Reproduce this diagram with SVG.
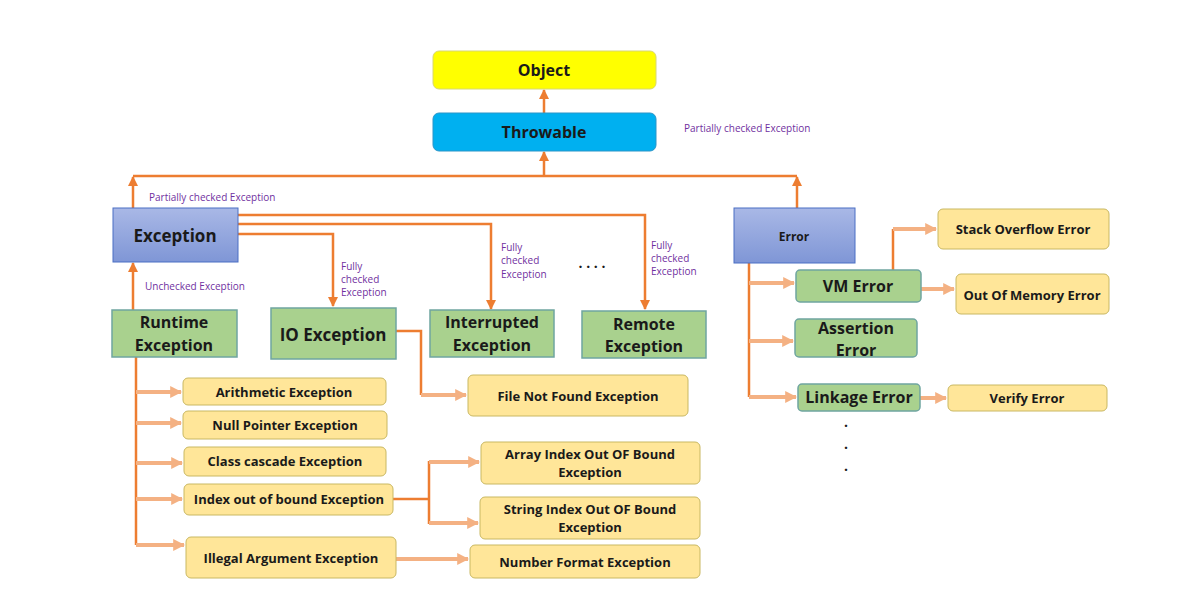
<svg xmlns="http://www.w3.org/2000/svg" width="1196" height="594" viewBox="0 0 1196 594">
<style>
text{font-family:"Open Sans","Liberation Sans",sans-serif;font-weight:bold;fill:#1a1a1a;text-anchor:middle;dominant-baseline:central}
.lbl{font-weight:normal;fill:#7030a0;font-size:10px;text-anchor:start}
.g{fill:#a9d18e;stroke:#6fa5a0;stroke-width:1.5}
.y{fill:#ffe699;stroke:#c9b862;stroke-width:1}
.b{fill:#8fa4dc;stroke:#4a6fc4;stroke-width:1}
.ln{fill:none;stroke:#ed7d31;stroke-width:2.5}
.th{fill:none;stroke:#f4b183;stroke-width:4}
</style>
<defs>
<marker id="a" viewBox="0 0 10 10" refX="9" refY="5" markerWidth="4" markerHeight="4" orient="auto"><path d="M0,0L10,5L0,10z" fill="#ed7d31"/></marker>
<marker id="t" viewBox="0 0 10 10" refX="9" refY="5" markerWidth="3" markerHeight="3" orient="auto"><path d="M0,0L10,5L0,10z" fill="#f4b183"/></marker>
<linearGradient id="bg" x1="0" y1="0" x2="0" y2="1"><stop offset="0" stop-color="#a9b8e6"/><stop offset="1" stop-color="#7f96d6"/></linearGradient>
</defs>
<rect width="1196" height="594" fill="#fff"/>
<g id="connectors">
<path class="ln" d="M544,113V90" marker-end="url(#a)"/>
<path class="ln" d="M133,176H797"/>
<path class="ln" d="M544,176V152" marker-end="url(#a)"/>
<path class="ln" d="M133,208V177" marker-end="url(#a)"/>
<path class="ln" d="M797,208V177" marker-end="url(#a)"/>
<path class="ln" d="M238,215H645V309" marker-end="url(#a)"/>
<path class="ln" d="M238,224H491V309" marker-end="url(#a)"/>
<path class="ln" d="M238,234H333V306" marker-end="url(#a)"/>
<path class="ln" d="M133,310V263" marker-end="url(#a)"/>
<path class="ln" d="M396,331H421V395"/>
<path class="th" d="M421,395H466" marker-end="url(#t)"/>
<path class="ln" d="M136,357V545"/>
<path class="th" d="M136,392H181M136,423H181M136,463H182M136,499H182M136,545H184" marker-end="url(#t)"/>
<path class="th" d="M136,392H181" marker-end="url(#t)"/>
<path class="th" d="M136,423H181" marker-end="url(#t)"/>
<path class="th" d="M136,463H182" marker-end="url(#t)"/>
<path class="th" d="M136,499H182" marker-end="url(#t)"/>
<path class="ln" d="M393,499H429M429,461V524"/>
<path class="th" d="M429,462H479" marker-end="url(#t)"/>
<path class="th" d="M429,523H478" marker-end="url(#t)"/>
<path class="th" d="M396,559H468" marker-end="url(#t)"/>
<path class="ln" d="M749,263V397"/>
<path class="th" d="M749,283H794" marker-end="url(#t)"/>
<path class="th" d="M749,341H793" marker-end="url(#t)"/>
<path class="th" d="M749,397H796" marker-end="url(#t)"/>
<path class="ln" d="M893,270V229"/>
<path class="th" d="M893,229H936" marker-end="url(#t)"/>
<path class="th" d="M921,289H954" marker-end="url(#t)"/>
<path class="th" d="M920,398H946" marker-end="url(#t)"/>
</g>
<g id="labels">
<text class="lbl" x="149" y="197">Partially checked Exception</text>
<text class="lbl" x="684" y="128">Partially checked Exception</text>
<text class="lbl" x="145" y="286">Unchecked Exception</text>
<text class="lbl" x="341" y="266">Fully</text><text class="lbl" x="341" y="279">checked</text><text class="lbl" x="341" y="292">Exception</text>
<text class="lbl" x="501" y="247">Fully</text><text class="lbl" x="501" y="260">checked</text><text class="lbl" x="501" y="274">Exception</text>
<text class="lbl" x="651" y="245">Fully</text><text class="lbl" x="651" y="258">checked</text><text class="lbl" x="651" y="271">Exception</text>
<text x="592" y="262" font-size="14">. . . .</text>
<text x="846" y="421" font-size="14">.</text><text x="846" y="443" font-size="14">.</text><text x="846" y="465" font-size="14">.</text>
</g>
<g id="object"><rect x="433" y="51" width="223" height="38" rx="6" fill="#ffff00" stroke="#d8d870"/><text x="544" y="70" font-size="16">Object</text></g>
<g id="throwable"><rect x="433" y="113" width="223" height="38" rx="6" fill="#00b0f0" stroke="#2a95c8"/><text x="544" y="132" font-size="16">Throwable</text></g>
<g id="exception"><rect x="113" y="208" width="125" height="54" fill="url(#bg)" stroke="#4a6fc4"/><text x="175" y="235" font-size="17">Exception</text></g>
<g id="error"><rect x="734" y="208" width="121" height="55" fill="url(#bg)" stroke="#4a6fc4"/><text x="794" y="236" font-size="12">Error</text></g>
<g id="runtime"><rect class="g" x="112" y="310" width="125" height="47"/><text x="174" y="322" font-size="16">Runtime</text><text x="174" y="345" font-size="16">Exception</text></g>
<g id="io"><rect class="g" x="271" y="308" width="125" height="51"/><text x="333" y="334" font-size="17">IO Exception</text></g>
<g id="interrupted"><rect class="g" x="430" y="310" width="124" height="47"/><text x="492" y="322" font-size="16">Interrupted</text><text x="492" y="345" font-size="16">Exception</text></g>
<g id="remote"><rect class="g" x="582" y="311" width="124" height="47"/><text x="644" y="324" font-size="16">Remote</text><text x="644" y="346" font-size="16">Exception</text></g>
<g id="fnf"><rect class="y" x="468" y="375" width="220" height="41" rx="5"/><text x="578" y="396" font-size="13">File Not Found Exception</text></g>
<g id="arith"><rect class="y" x="183" y="378" width="203" height="27" rx="5"/><text x="284" y="392" font-size="13">Arithmetic Exception</text></g>
<g id="null"><rect class="y" x="183" y="411" width="204" height="28" rx="5"/><text x="285" y="425" font-size="13">Null Pointer Exception</text></g>
<g id="class"><rect class="y" x="184" y="447" width="202" height="29" rx="5"/><text x="285" y="461" font-size="13">Class cascade Exception</text></g>
<g id="index"><rect class="y" x="184" y="484" width="209" height="31" rx="5"/><text x="289" y="499" font-size="13">Index out of bound Exception</text></g>
<g id="illegal"><rect class="y" x="186" y="537" width="210" height="41" rx="5"/><text x="291" y="558" font-size="13">Illegal Argument Exception</text></g>
<g id="array"><rect class="y" x="481" y="442" width="219" height="42" rx="5"/><text x="590" y="454" font-size="13">Array Index Out OF Bound</text><text x="590" y="472" font-size="13">Exception</text></g>
<g id="string"><rect class="y" x="480" y="497" width="220" height="42" rx="5"/><text x="590" y="509" font-size="13">String Index Out OF Bound</text><text x="590" y="527" font-size="13">Exception</text></g>
<g id="numfmt"><rect class="y" x="470" y="545" width="230" height="33" rx="5"/><text x="585" y="562" font-size="13">Number Format Exception</text></g>
<g id="vm"><rect class="g" x="796" y="270" width="125" height="32" rx="4"/><text x="858" y="286" font-size="16">VM Error</text></g>
<g id="assertion"><rect class="g" x="795" y="319" width="122" height="38" rx="4"/><text x="856" y="328" font-size="16">Assertion</text><text x="856" y="350" font-size="16">Error</text></g>
<g id="linkage"><rect class="g" x="798" y="384" width="122" height="27" rx="4"/><text x="859" y="397" font-size="16">Linkage Error</text></g>
<g id="stack"><rect class="y" x="938" y="209" width="171" height="40" rx="5"/><text x="1023" y="229" font-size="13">Stack Overflow Error</text></g>
<g id="oom"><rect class="y" x="956" y="274" width="153" height="40" rx="5"/><text x="1032" y="295" font-size="13">Out Of Memory Error</text></g>
<g id="verify"><rect class="y" x="948" y="385" width="159" height="26" rx="5"/><text x="1027" y="398" font-size="13">Verify Error</text></g>
</svg>
